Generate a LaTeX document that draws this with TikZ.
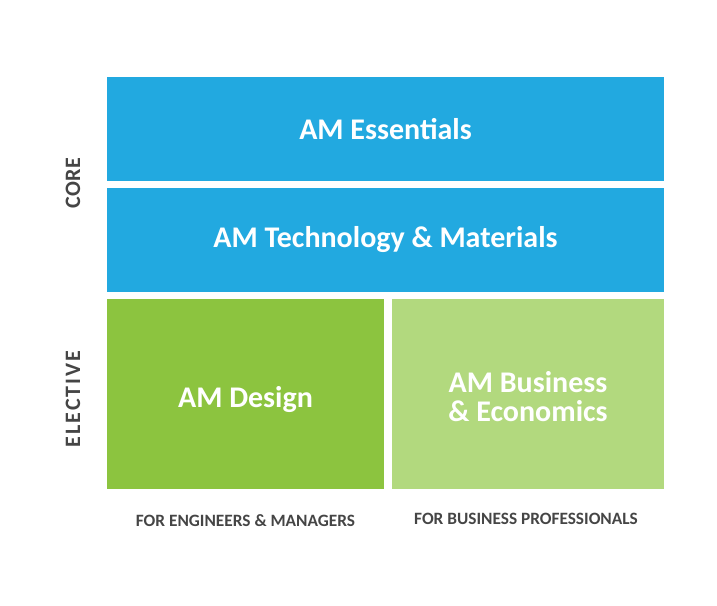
\documentclass[tikz,border=0pt]{standalone}
\usepackage{fontspec}
\setmainfont{Carlito}
\definecolor{coreblue}{HTML}{22A9E0}
\definecolor{elecgreen}{HTML}{8CC43F}
\definecolor{elecpale}{HTML}{B2D97E}
\definecolor{labelgray}{HTML}{454545}
\begin{document}
\begin{tikzpicture}[x=1pt,y=-1pt]
            \useasboundingbox (0,0) rectangle (717,605);
            \begin{scope}[every node/.style={inner sep=0pt, text=white, font=\bfseries\fontsize{30}{29}\selectfont, align=center}]

                \node[fill=coreblue, minimum width=557pt, minimum height=104pt] (essentials) at (385.5,129) {AM Essentials};
                \node[fill=coreblue, minimum width=557pt, minimum height=104pt] (techmat) at (385.5,240) {AM Technology \& Materials};
                \node[fill=elecgreen, minimum width=277pt, minimum height=190pt, text height=32pt] (design) at (245.5,394) {AM Design};
                \node[fill=elecpale, minimum width=272pt, minimum height=190pt, text height=56pt] (business) at (528,394) {AM Business\\\& Economics};
            \end{scope}
            \begin{scope}[every node/.style={text=labelgray}]

                \node[rotate=90, font=\bfseries\fontsize{22}{24}\selectfont\addfontfeature{LetterSpace=2}] (core) at (73,183) {CORE};
                \node[rotate=90, font=\bfseries\fontsize{22}{24}\selectfont\addfontfeature{LetterSpace=9}] (elective) at (73,399) {ELECTIVE};
                \node[font=\bfseries\fontsize{17.3}{19}\selectfont] (engineers) at (245.5,521) {FOR ENGINEERS \& MANAGERS};
                \node[font=\bfseries\fontsize{17.3}{19}\selectfont] (professionals) at (526,519) {FOR BUSINESS PROFESSIONALS};
            \end{scope}
        \end{tikzpicture}
\end{document}
